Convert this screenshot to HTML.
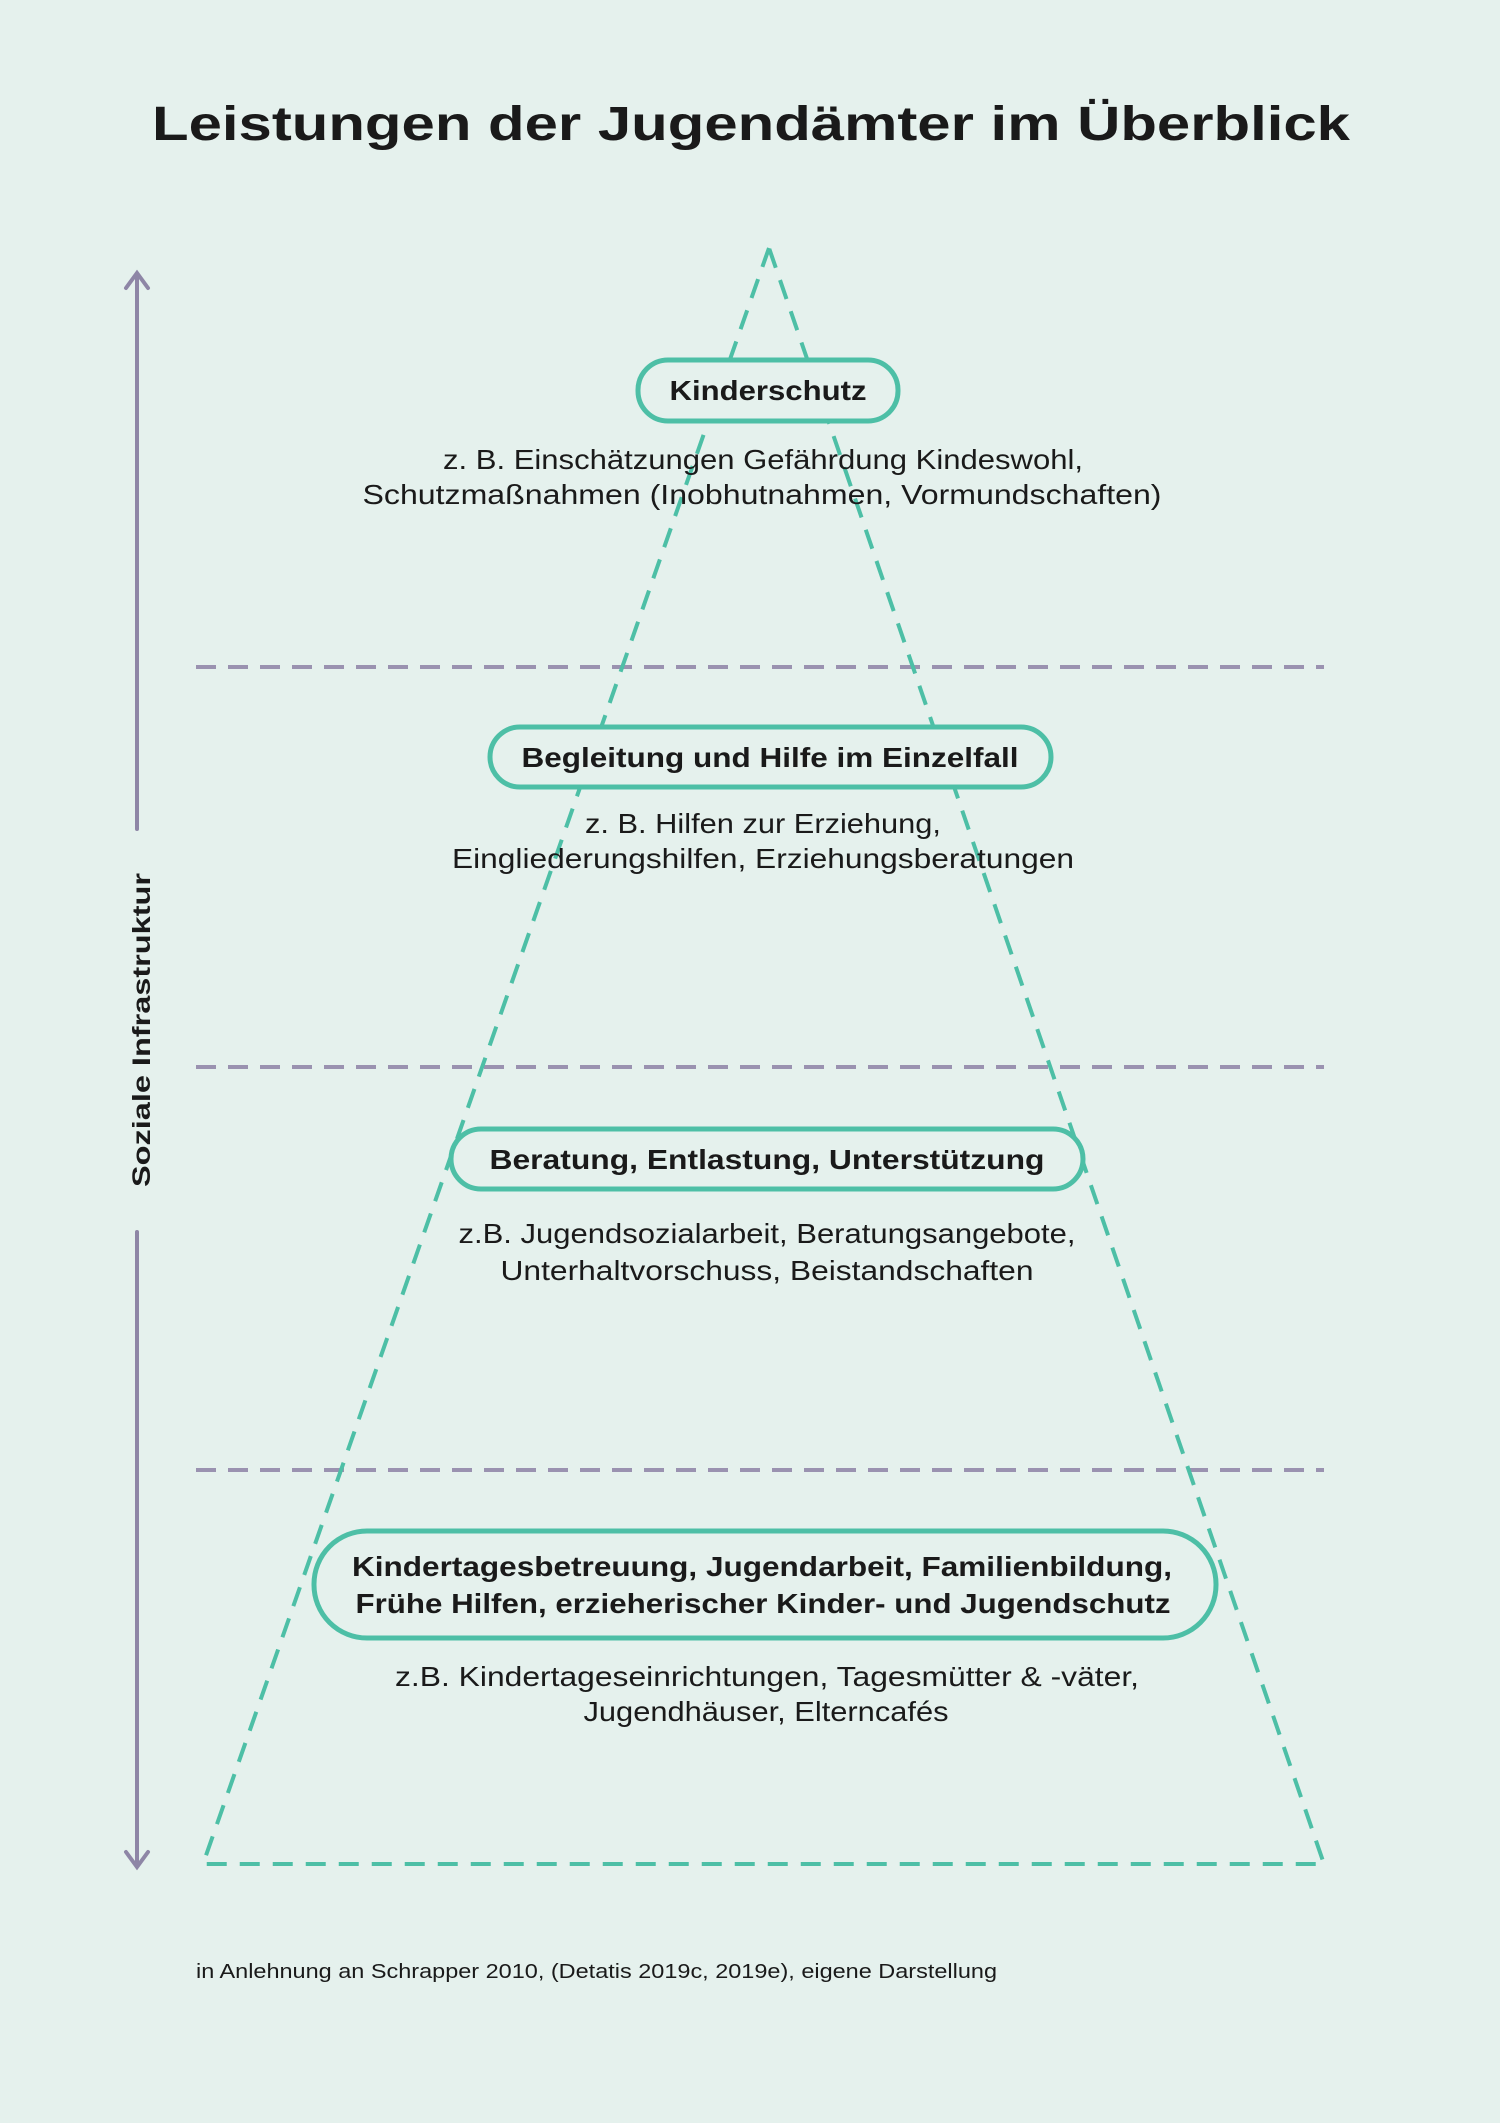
<!DOCTYPE html>
<html><head><meta charset="utf-8"><style>
html,body{margin:0;padding:0;background:#e5f1ed;}
svg{display:block}
text{font-family:"Liberation Sans",sans-serif;fill:#1a1a1a}
.b{font-weight:bold}
</style></head><body>
<svg width="1500" height="2123" viewBox="0 0 1500 2123" xmlns="http://www.w3.org/2000/svg">
<rect width="1500" height="2123" fill="#e5f1ed"/>
<text x="751" y="140" text-anchor="middle" class="b" font-size="48" textLength="1198" lengthAdjust="spacingAndGlyphs">Leistungen der Jugendämter im Überblick</text>
<!-- horizontal dashed -->
<g stroke="#9a92b0" stroke-width="4" stroke-dasharray="20 12">
<line x1="196" y1="667" x2="1324" y2="667"/>
<line x1="196" y1="1067" x2="1324" y2="1067"/>
<line x1="196" y1="1470" x2="1324" y2="1470"/>
</g>
<!-- triangle -->
<path d="M769 248 L203 1864 L1324 1864 Z" fill="none" stroke="#4dbfa6" stroke-width="4" stroke-dasharray="20 13"/>
<!-- arrow -->
<g stroke="#8e86a6" stroke-width="4" fill="none" stroke-linecap="round">
<line x1="137" y1="274" x2="137" y2="829"/>
<line x1="137" y1="1232" x2="137" y2="1866"/>
<polyline points="126,288 137,273 148,288"/>
<polyline points="126,1852 137,1867 148,1852"/>
</g>
<text transform="translate(150,1030) rotate(-90)" text-anchor="middle" class="b" font-size="25" textLength="314" lengthAdjust="spacingAndGlyphs">Soziale Infrastruktur</text>
<!-- boxes -->
<g fill="#e5f1ed" stroke="#4dbfa6" stroke-width="5">
<rect x="638" y="360" width="260" height="61" rx="30"/>
<rect x="490" y="727" width="561" height="60" rx="30"/>
<rect x="451" y="1129" width="632" height="60" rx="30"/>
<rect x="314" y="1531" width="902" height="107" rx="53"/>
</g>
<g class="b" font-size="28" text-anchor="middle">
<text x="768" y="400" class="b" textLength="197" lengthAdjust="spacingAndGlyphs">Kinderschutz</text>
<text x="770" y="767" class="b" textLength="497" lengthAdjust="spacingAndGlyphs">Begleitung und Hilfe im Einzelfall</text>
<text x="767" y="1169" class="b" textLength="555" lengthAdjust="spacingAndGlyphs">Beratung, Entlastung, Unterstützung</text>
<text x="762" y="1576" class="b" textLength="820" lengthAdjust="spacingAndGlyphs">Kindertagesbetreuung, Jugendarbeit, Familienbildung,</text>
<text x="763" y="1613" class="b" textLength="815" lengthAdjust="spacingAndGlyphs">Frühe Hilfen, erzieherischer Kinder- und Jugendschutz</text>
</g>
<g font-size="28" text-anchor="middle">
<text x="763" y="469" textLength="640" lengthAdjust="spacingAndGlyphs">z. B. Einschätzungen Gefährdung Kindeswohl,</text>
<text x="762" y="504" textLength="799" lengthAdjust="spacingAndGlyphs">Schutzmaßnahmen (Inobhutnahmen, Vormundschaften)</text>
<text x="763" y="833" textLength="356" lengthAdjust="spacingAndGlyphs">z. B. Hilfen zur Erziehung,</text>
<text x="763" y="868" textLength="622" lengthAdjust="spacingAndGlyphs">Eingliederungshilfen, Erziehungsberatungen</text>
<text x="767" y="1243" textLength="617" lengthAdjust="spacingAndGlyphs">z.B. Jugendsozialarbeit, Beratungsangebote,</text>
<text x="767" y="1280" textLength="533" lengthAdjust="spacingAndGlyphs">Unterhaltvorschuss, Beistandschaften</text>
<text x="767" y="1686" textLength="744" lengthAdjust="spacingAndGlyphs">z.B. Kindertageseinrichtungen, Tagesmütter &amp; -väter,</text>
<text x="766" y="1721" textLength="365" lengthAdjust="spacingAndGlyphs">Jugendhäuser, Elterncafés</text>
</g>
<text x="196" y="1978" font-size="20" textLength="801" lengthAdjust="spacingAndGlyphs">in Anlehnung an Schrapper 2010, (Detatis 2019c, 2019e), eigene Darstellung</text>
</svg>
</body></html>
